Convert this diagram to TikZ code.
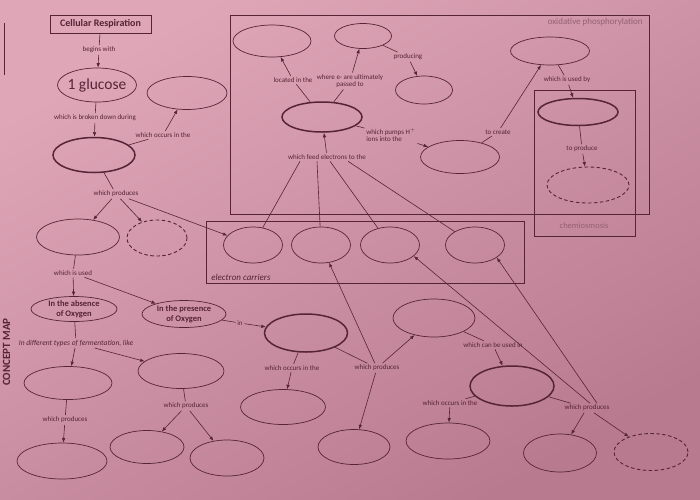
\documentclass[tikz,border=0pt]{standalone}
\usepackage{fontspec}
\setmainfont{Carlito}
\usetikzlibrary{shapes.geometric,arrows.meta}
\definecolor{ink}{RGB}{86,36,54}
\definecolor{faint}{RGB}{150,96,118}
\definecolor{paperA}{RGB}{223,166,184}
\definecolor{paperB}{RGB}{209,150,169}
\definecolor{paperC}{RGB}{184,122,143}
\newcommand{\lblfont}{\fontsize{7}{7.5}\selectfont}
\begin{document}
\begin{tikzpicture}[x=1pt,y=-1pt,line width=0.6pt,color=ink,
    >={Latex[length=4.5pt,width=3.5pt]},
    bubble/.style={draw=ink,ellipse,inner sep=0pt,line width=0.7pt},
    thickbubble/.style={bubble,line width=1.5pt},
    dashbubble/.style={bubble,dash pattern=on 3.5pt off 2.5pt,line width=0.9pt},
    lbl/.style={text=ink,font=\lblfont,inner sep=1.5pt,align=center},
    frame/.style={draw=ink,line width=0.9pt},
  ]
  % paper
  \shade[top color=paperA,middle color=paperB,bottom color=paperC,shading angle=30] (0,0) rectangle (700,499);
  \useasboundingbox (0,0) rectangle (700,499);
  \draw[line width=0.8pt] (4,23) -- (4,75);
  \node[rotate=90,anchor=base east,inner sep=0pt,font=\fontsize{11}{11}\selectfont\bfseries] (sidetitle) at (10,318) {CONCEPT MAP};

  % glycolysis part
  \node[frame,minimum width=101,minimum height=18,font=\fontsize{10}{10}\selectfont\bfseries] (title) at (100.5,24) {Cellular Respiration};
  \node[lbl] (lbegin) at (99,50) {begins with};
  \node[bubble,minimum width=79,minimum height=34,label={[font=\fontsize{15.5}{16}\selectfont]center:1 glucose}] (glucose) at (97,85) {};
  \node[bubble,minimum width=80,minimum height=33] (cytoplasm) at (187,93) {};
  \node[lbl] (lbroken) at (95,118) {which is broken down during};
  \node[thickbubble,minimum width=82,minimum height=35] (glycolysis) at (94,155) {};
  \node[lbl] (loccurs) at (163,135) {which occurs in the};
  \node[lbl] (lprod) at (116,194) {which produces};
  \node[bubble,minimum width=83,minimum height=36] (pyruvate) at (78,237) {};
  \node[dashbubble,minimum width=60,minimum height=36] (atpone) at (157,238) {};
  \node[lbl] (lused) at (73,273) {which is used};
  \node[bubble,minimum width=86,minimum height=25,label={[font=\fontsize{8.5}{9.5}\selectfont\bfseries,align=center]center:In the absence\\of Oxygen}] (absence) at (74,309) {};
  \node[bubble,minimum width=84,minimum height=27,label={[font=\fontsize{8.5}{9.5}\selectfont\bfseries,align=center]center:In the presence\\of Oxygen}] (presence) at (184,314) {};

  % fermentation
  \node[lbl,font=\fontsize{7.5}{8}\selectfont\itshape] (lferm) at (76,343) {In different types of fermentation, like};
  \node[bubble,minimum width=88,minimum height=33] (lactic) at (68,383) {};
  \node[bubble,minimum width=86,minimum height=35] (alcohol) at (181,371) {};
  \node[lbl] (lprodlac) at (65,420) {which produces};
  \node[bubble,minimum width=90,minimum height=36] (lactate) at (62,461) {};
  \node[lbl] (lprodalc) at (186,406) {which produces};
  \node[bubble,minimum width=74,minimum height=33] (ethanol) at (147,447) {};
  \node[bubble,minimum width=74,minimum height=36] (carbon) at (227,458) {};

  % krebs
  \node[lbl] (lin) at (240,323) {in};
  \node[thickbubble,minimum width=83,minimum height=38] (krebs) at (306,333) {};
  \node[lbl] (loccursk) at (292,368) {which occurs in the};
  \node[bubble,minimum width=85,minimum height=35] (matrix) at (283,407) {};
  \node[lbl] (lprodk) at (377,368) {which produces};
  \node[bubble,minimum width=82,minimum height=38] (produp) at (434,318) {};
  \node[bubble,minimum width=72,minimum height=35] (proddown) at (354,447) {};
  \node[lbl] (lcan) at (493,345) {which can be used in};
  \node[thickbubble,minimum width=84,minimum height=40] (reuse) at (512,386) {};
  \node[lbl] (loccursr) at (450,403) {which occurs in the};
  \node[bubble,minimum width=84,minimum height=36] (place) at (448,441) {};
  \node[lbl] (lprodr) at (587,408) {which produces};
  \node[bubble,minimum width=73,minimum height=38] (prodr) at (560,453) {};
  \node[dashbubble,minimum width=74,minimum height=37] (atptwo) at (651,452) {};

  % electron carriers
  \draw[frame] (206,221) rectangle (524,283);
  \node[anchor=west,inner sep=0pt,font=\fontsize{9}{9}\selectfont\itshape] (carrlbl) at (211,277) {electron carriers};
  \foreach \n/\x in {1/253,2/321,3/390,4/475}
    \node[bubble,minimum width=59,minimum height=36] (car\n) at (\x,245) {};

  % oxidative phosphorylation
  \draw[frame] (230,15) rectangle (649,214);
  \node[anchor=east,inner sep=0pt,text=faint,font=\fontsize{9}{9}\selectfont] (oxlbl) at (643,22) {oxidative phosphorylation};
  \draw[frame] (534,90) rectangle (635,236);
  \node[text=faint,font=\fontsize{8.5}{9}\selectfont] (chemlbl) at (584,226) {chemiosmosis};
  \node[bubble,minimum width=78,minimum height=32] (membrane) at (272,41) {};
  \node[bubble,minimum width=57,minimum height=25] (acceptor) at (363,36) {};
  \node[lbl] (lproducing) at (408,57) {producing};
  \node[bubble,minimum width=57,minimum height=28] (water) at (424,90) {};
  \node[lbl] (llocated) at (293,80) {located in the};
  \node[lbl] (lwhere) at (350,81) {where e- are ultimately\\passed to};
  \node[thickbubble,minimum width=80,minimum height=30] (etc) at (322,117) {};
  \node[lbl,align=left] (lpumps) at (391,135) {which pumps H$^+$\\ions into the};
  \node[bubble,minimum width=79,minimum height=33] (space) at (460,157) {};
  \node[lbl] (lcreate) at (498,132) {to create};
  \node[bubble,minimum width=79,minimum height=28] (gradient) at (550,51) {};
  \node[lbl] (lusedby) at (567,80) {which is used by};
  \node[thickbubble,minimum width=80,minimum height=27] (synthase) at (578,112) {};
  \node[lbl] (lproduce) at (582,149) {to produce};
  \node[dashbubble,minimum width=82,minimum height=36] (atpox) at (588,185) {};
  \node[lbl] (lfeed) at (327,157) {which feed electrons to the};

  % connectors
  \draw (title) -- (lbegin);
  \draw[->] (lbegin) -- (glucose);
  \draw (glucose) -- (lbroken);
  \draw[->] (lbroken) -- (glycolysis);
  \draw (glycolysis) -- (loccurs);
  \draw[->] (loccurs) -- (cytoplasm);
  \draw (glycolysis) -- (lprod);
  \draw[->] (lprod) -- (pyruvate);
  \draw[->] (lprod) -- (atpone);
  \draw[->] (lprod) -- (car1);
  \draw (pyruvate) -- (lused);
  \draw[->] (lused) -- (absence);
  \draw[->] (lused) -- (presence);
  \draw (absence) -- (lferm);
  \draw[->] (lferm) -- (lactic);
  \draw[->] (lferm) -- (alcohol);
  \draw (lactic) -- (lprodlac);
  \draw[->] (lprodlac) -- (lactate);
  \draw (alcohol) -- (lprodalc);
  \draw[->] (lprodalc) -- (ethanol);
  \draw[->] (lprodalc) -- (carbon);
  \draw (presence) -- (lin);
  \draw[->] (lin) -- (krebs);
  \draw (krebs) -- (loccursk);
  \draw[->] (loccursk) -- (matrix);
  \draw (krebs) -- (lprodk);
  \draw[->] (lprodk) -- (car2);
  \draw[->] (lprodk) -- (produp);
  \draw[->] (lprodk) -- (proddown);
  \draw (produp) -- (lcan);
  \draw[->] (lcan) -- (reuse);
  \draw (reuse) -- (loccursr);
  \draw[->] (loccursr) -- (place);
  \draw (reuse) -- (lprodr);
  \draw[->] ([xshift=3pt]lprodr.north) -- (car3.-25);
  \draw[->] ([xshift=10pt]lprodr.north) -- (car4.-30);
  \draw[->] (lprodr) -- (prodr);
  \draw[->] (lprodr) -- (atptwo);
  \foreach \n/\dx in {1/-27pt,2/-10pt,3/3pt,4/21pt}
    \draw (car\n) -- ([xshift=\dx]lfeed.south);
  \draw[->] (lfeed) -- (etc);
  \draw (etc) -- (llocated);
  \draw[->] (llocated) -- (membrane);
  \draw (etc) -- (lwhere);
  \draw[->] (lwhere) -- (acceptor);
  \draw (acceptor) -- (lproducing);
  \draw[->] (lproducing) -- (water);
  \draw (etc) -- (lpumps);
  \draw[->] (lpumps) -- (space);
  \draw (space) -- (lcreate);
  \draw[->] (lcreate) -- (gradient);
  \draw (gradient) -- (lusedby);
  \draw[->] (lusedby) -- (synthase);
  \draw (synthase) -- (lproduce);
  \draw[->] (lproduce) -- (atpox);
\end{tikzpicture}
\end{document}
